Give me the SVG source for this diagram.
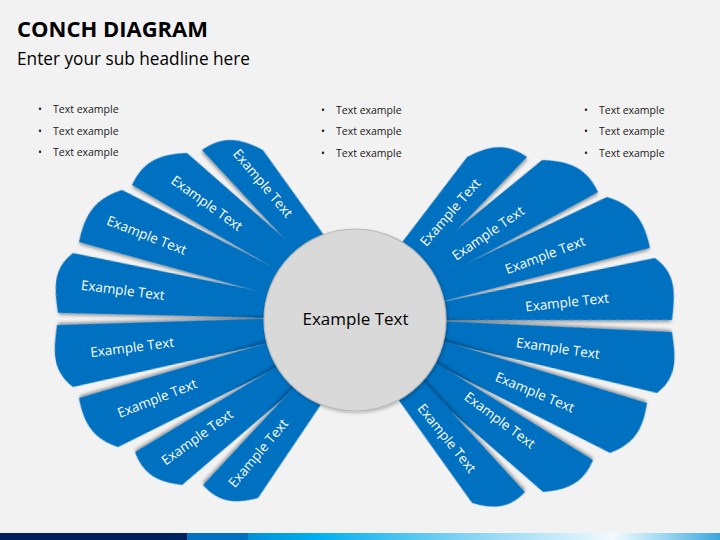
<svg xmlns="http://www.w3.org/2000/svg" width="720" height="540" viewBox="0 0 720 540">
<style>
.pt{fill:#0070C0;filter:url(#sh)}
.lb{font-family:"Open Sans","Liberation Sans",sans-serif;font-size:13.5px;fill:#fff;text-anchor:middle}
.bl{font-family:"Open Sans","Liberation Sans",sans-serif;font-size:10.5px;fill:#1a1a1a}
</style>
<defs>
<filter id="sh" x="-20%" y="-20%" width="140%" height="140%">
<feDropShadow dx="1.5" dy="2" stdDeviation="1.5" flood-color="#000" flood-opacity="0.35"/>
</filter>
<filter id="csh" x="-20%" y="-20%" width="140%" height="140%">
<feDropShadow dx="1" dy="1.5" stdDeviation="1.5" flood-color="#000" flood-opacity="0.25"/>
</filter>
<linearGradient id="bar" x1="0" y1="0" x2="1" y2="0">
<stop offset="0" stop-color="#0090D8"/>
<stop offset="0.15" stop-color="#00B0F0"/>
<stop offset="0.45" stop-color="#7FD2F4"/>
<stop offset="0.72" stop-color="#DDF2FB"/>
<stop offset="0.77" stop-color="#F4FAFD"/>
<stop offset="0.87" stop-color="#A6DCF4"/>
<stop offset="1" stop-color="#3AA6DF"/>
</linearGradient>
</defs>
<rect width="720" height="540" fill="#F2F2F2"/>

<text x="17" y="37" font-family="'Open Sans','Liberation Sans',sans-serif" font-weight="bold" font-size="22" fill="#000" textLength="191" lengthAdjust="spacingAndGlyphs">CONCH DIAGRAM</text>
<text x="17" y="65" font-family="'Open Sans','Liberation Sans',sans-serif" font-size="17.5" fill="#000" textLength="233" lengthAdjust="spacingAndGlyphs">Enter your sub headline here</text>

<g id="bullets-left" class="bl">
<text x="38" y="113">•</text><text x="53" y="113">Text example</text>
<text x="38" y="135">•</text><text x="53" y="135">Text example</text>
<text x="38" y="156">•</text><text x="53" y="156">Text example</text>
</g>
<g id="bullets-mid" class="bl">
<text x="321" y="114">•</text><text x="336" y="114">Text example</text>
<text x="321" y="135">•</text><text x="336" y="135">Text example</text>
<text x="321" y="157">•</text><text x="336" y="157">Text example</text>
</g>
<g id="bullets-right" class="bl">
<text x="584" y="114">•</text><text x="599" y="114">Text example</text>
<text x="584" y="135">•</text><text x="599" y="135">Text example</text>
<text x="584" y="157">•</text><text x="599" y="157">Text example</text>
</g>

<g id="connectors"></g>

<g id="left-fan">
<g id="petal-L1"><path class="pt" transform="translate(370,318) rotate(50.05)" d="M-60,11.97 L-236.66,20.92 C-234.46,-4.61 -221.23,-16.21 -197.49,-25.84 L-60,-15.49 Z"/><text class="lb" transform="translate(370,318) rotate(50.05)" x="-172" y="0.3">Example Text</text></g>
<g id="petal-L2"><path class="pt" transform="translate(370,318) rotate(35.75)" d="M-60,11.23 L-270.86,31.1 C-275.94,4.86 -265.97,-10.57 -244.91,-27 L-60,-9.14 Z"/><text class="lb" transform="translate(370,318) rotate(35.75)" x="-199.5" y="6.9">Example Text</text></g>
<g id="petal-L3"><path class="pt" transform="translate(370,318) rotate(21.45)" d="M-60,10.59 L-298.62,35.69 C-303.46,7.77 -299.7,-10.65 -277.62,-28.44 L-60,-7.32 Z"/><text class="lb" transform="translate(370,318) rotate(21.45)" x="-238" y="9.4">Example Text</text></g>
<g id="petal-L4"><path class="pt" transform="translate(370,318) rotate(7.15)" d="M-60,8.43 L-310.19,33.87 C-316.97,8.8 -321.11,-9.12 -302.78,-27.52 L-60,-8.94 Z"/><text class="lb" transform="translate(370,318) rotate(7.15)" x="-248.6" y="7.9">Example Text</text></g>
<g id="petal-L5"><path class="pt" transform="translate(370,318) rotate(-7.15) scale(1,-1)" d="M-60,8.33 L-311.43,32.01 C-318.26,6 -322.41,-12.58 -303.28,-31.49 L-60,-8.05 Z"/><text class="lb" transform="translate(370,318) rotate(-7.15)" x="-239.7" y="4.2">Example Text</text></g>
<g id="petal-L6"><path class="pt" transform="translate(370,318) rotate(-21.45) scale(1,-1)" d="M-60,10.41 L-300.09,31.96 C-305.07,6.14 -301.9,-11.01 -281.72,-27.9 L-60,-8.5 Z"/><text class="lb" transform="translate(370,318) rotate(-21.45)" x="-227.5" y="1.6">Example Text</text></g>
<g id="petal-L7"><path class="pt" transform="translate(370,318) rotate(-35.75) scale(1,-1)" d="M-60,11.42 L-269.01,28.54 C-275.6,5.33 -267.82,-9.31 -250.14,-25.71 L-60,-9.99 Z"/><text class="lb" transform="translate(370,318) rotate(-35.75)" x="-210" y="0.5">Example Text</text></g>
<g id="petal-L8"><path class="pt" transform="translate(370,318) rotate(-50.05) scale(1,-1)" d="M-60,11.73 L-235.25,20.79 C-238.71,-2.69 -229.25,-15.98 -209.91,-29.72 L-60,-14.01 Z"/><text class="lb" transform="translate(370,318) rotate(-50.05)" x="-175.4" y="5.8">Example Text</text></g>
</g>

<g id="right-fan">
<g id="petal-R1"><path class="pt" transform="translate(352,319) rotate(-49.05) scale(-1,1)" d="M-60,16.95 L-237.06,26.01 C-234.46,0.94 -221.24,-10.25 -197.73,-19.31 L-60,-10.42 Z"/><text class="lb" transform="translate(352,319) rotate(-49.05)" x="145" y="8.9">Example Text</text></g>
<g id="petal-R2"><path class="pt" transform="translate(352,319) rotate(-34.75) scale(-1,1)" d="M-60,13.16 L-274.5,35.88 C-278.98,9.16 -268.5,-6.21 -246.73,-22.33 L-60,-7.4 Z"/><text class="lb" transform="translate(352,319) rotate(-34.75)" x="160.7" y="11.8">Example Text</text></g>
<g id="petal-R3"><path class="pt" transform="translate(352,319) rotate(-20.45) scale(-1,1)" d="M-60,11.89 L-304.04,37.59 C-308.08,9.88 -303.86,-8.23 -281.57,-25.21 L-60,-6.53 Z"/><text class="lb" transform="translate(352,319) rotate(-20.45)" x="203.2" y="12.4">Example Text</text></g>
<g id="petal-R4"><path class="pt" transform="translate(352,319) rotate(-6.15) scale(-1,1)" d="M-60,7.49 L-318.05,35.27 C-324.05,8.95 -327.6,-9.85 -307.78,-28.19 L-60,-4.35 Z"/><text class="lb" transform="translate(352,319) rotate(-6.15)" x="215.6" y="11.1">Example Text</text></g>
<g id="petal-R5"><path class="pt" transform="translate(352,319) rotate(8.15) scale(-1,-1)" d="M-60,7.78 L-318.61,32.49 C-326.04,7.18 -330.63,-10.93 -312.41,-30.01 L-60,-6.71 Z"/><text class="lb" transform="translate(352,319) rotate(8.15)" x="208" y="4.5">Example Text</text></g>
<g id="petal-R6"><path class="pt" transform="translate(352,319) rotate(22.45) scale(-1,-1)" d="M-60,11.57 L-304.72,35.02 C-311,9.67 -308.74,-7.52 -289.61,-25.32 L-60,-7.5 Z"/><text class="lb" transform="translate(352,319) rotate(22.45)" x="197" y="2.6">Example Text</text></g>
<g id="petal-R7"><path class="pt" transform="translate(352,319) rotate(36.75) scale(-1,-1)" d="M-60,12.2 L-277.46,31.22 C-283.66,7.07 -275.25,-7.85 -256.55,-24.34 L-60,-9.22 Z"/><text class="lb" transform="translate(352,319) rotate(36.75)" x="179" y="-2.7">Example Text</text></g>
<g id="petal-R8"><path class="pt" transform="translate(352,319) rotate(51.05) scale(-1,-1)" d="M-60,14.4 L-243.28,25.86 C-246.38,3.34 -237.2,-9.3 -218.54,-22.28 L-60,-12.68 Z"/><text class="lb" transform="translate(352,319) rotate(51.05)" x="152.3" y="5.9">Example Text</text></g>
</g>

<g id="center">
<circle cx="355" cy="320" r="91" fill="#D9D9D9" stroke="#B8B8B8" stroke-width="1.2" filter="url(#csh)"/>
<text x="355.5" y="324.5" font-family="'Open Sans','Liberation Sans',sans-serif" font-size="17" fill="#000" text-anchor="middle">Example Text</text>
</g>

<g id="bottom-bar">
<rect x="0" y="533" width="187" height="7" fill="#002060"/>
<rect x="187" y="533" width="61" height="7" fill="#0070C0"/>
<rect x="248" y="533" width="472" height="7" fill="url(#bar)"/>
</g>
</svg>
